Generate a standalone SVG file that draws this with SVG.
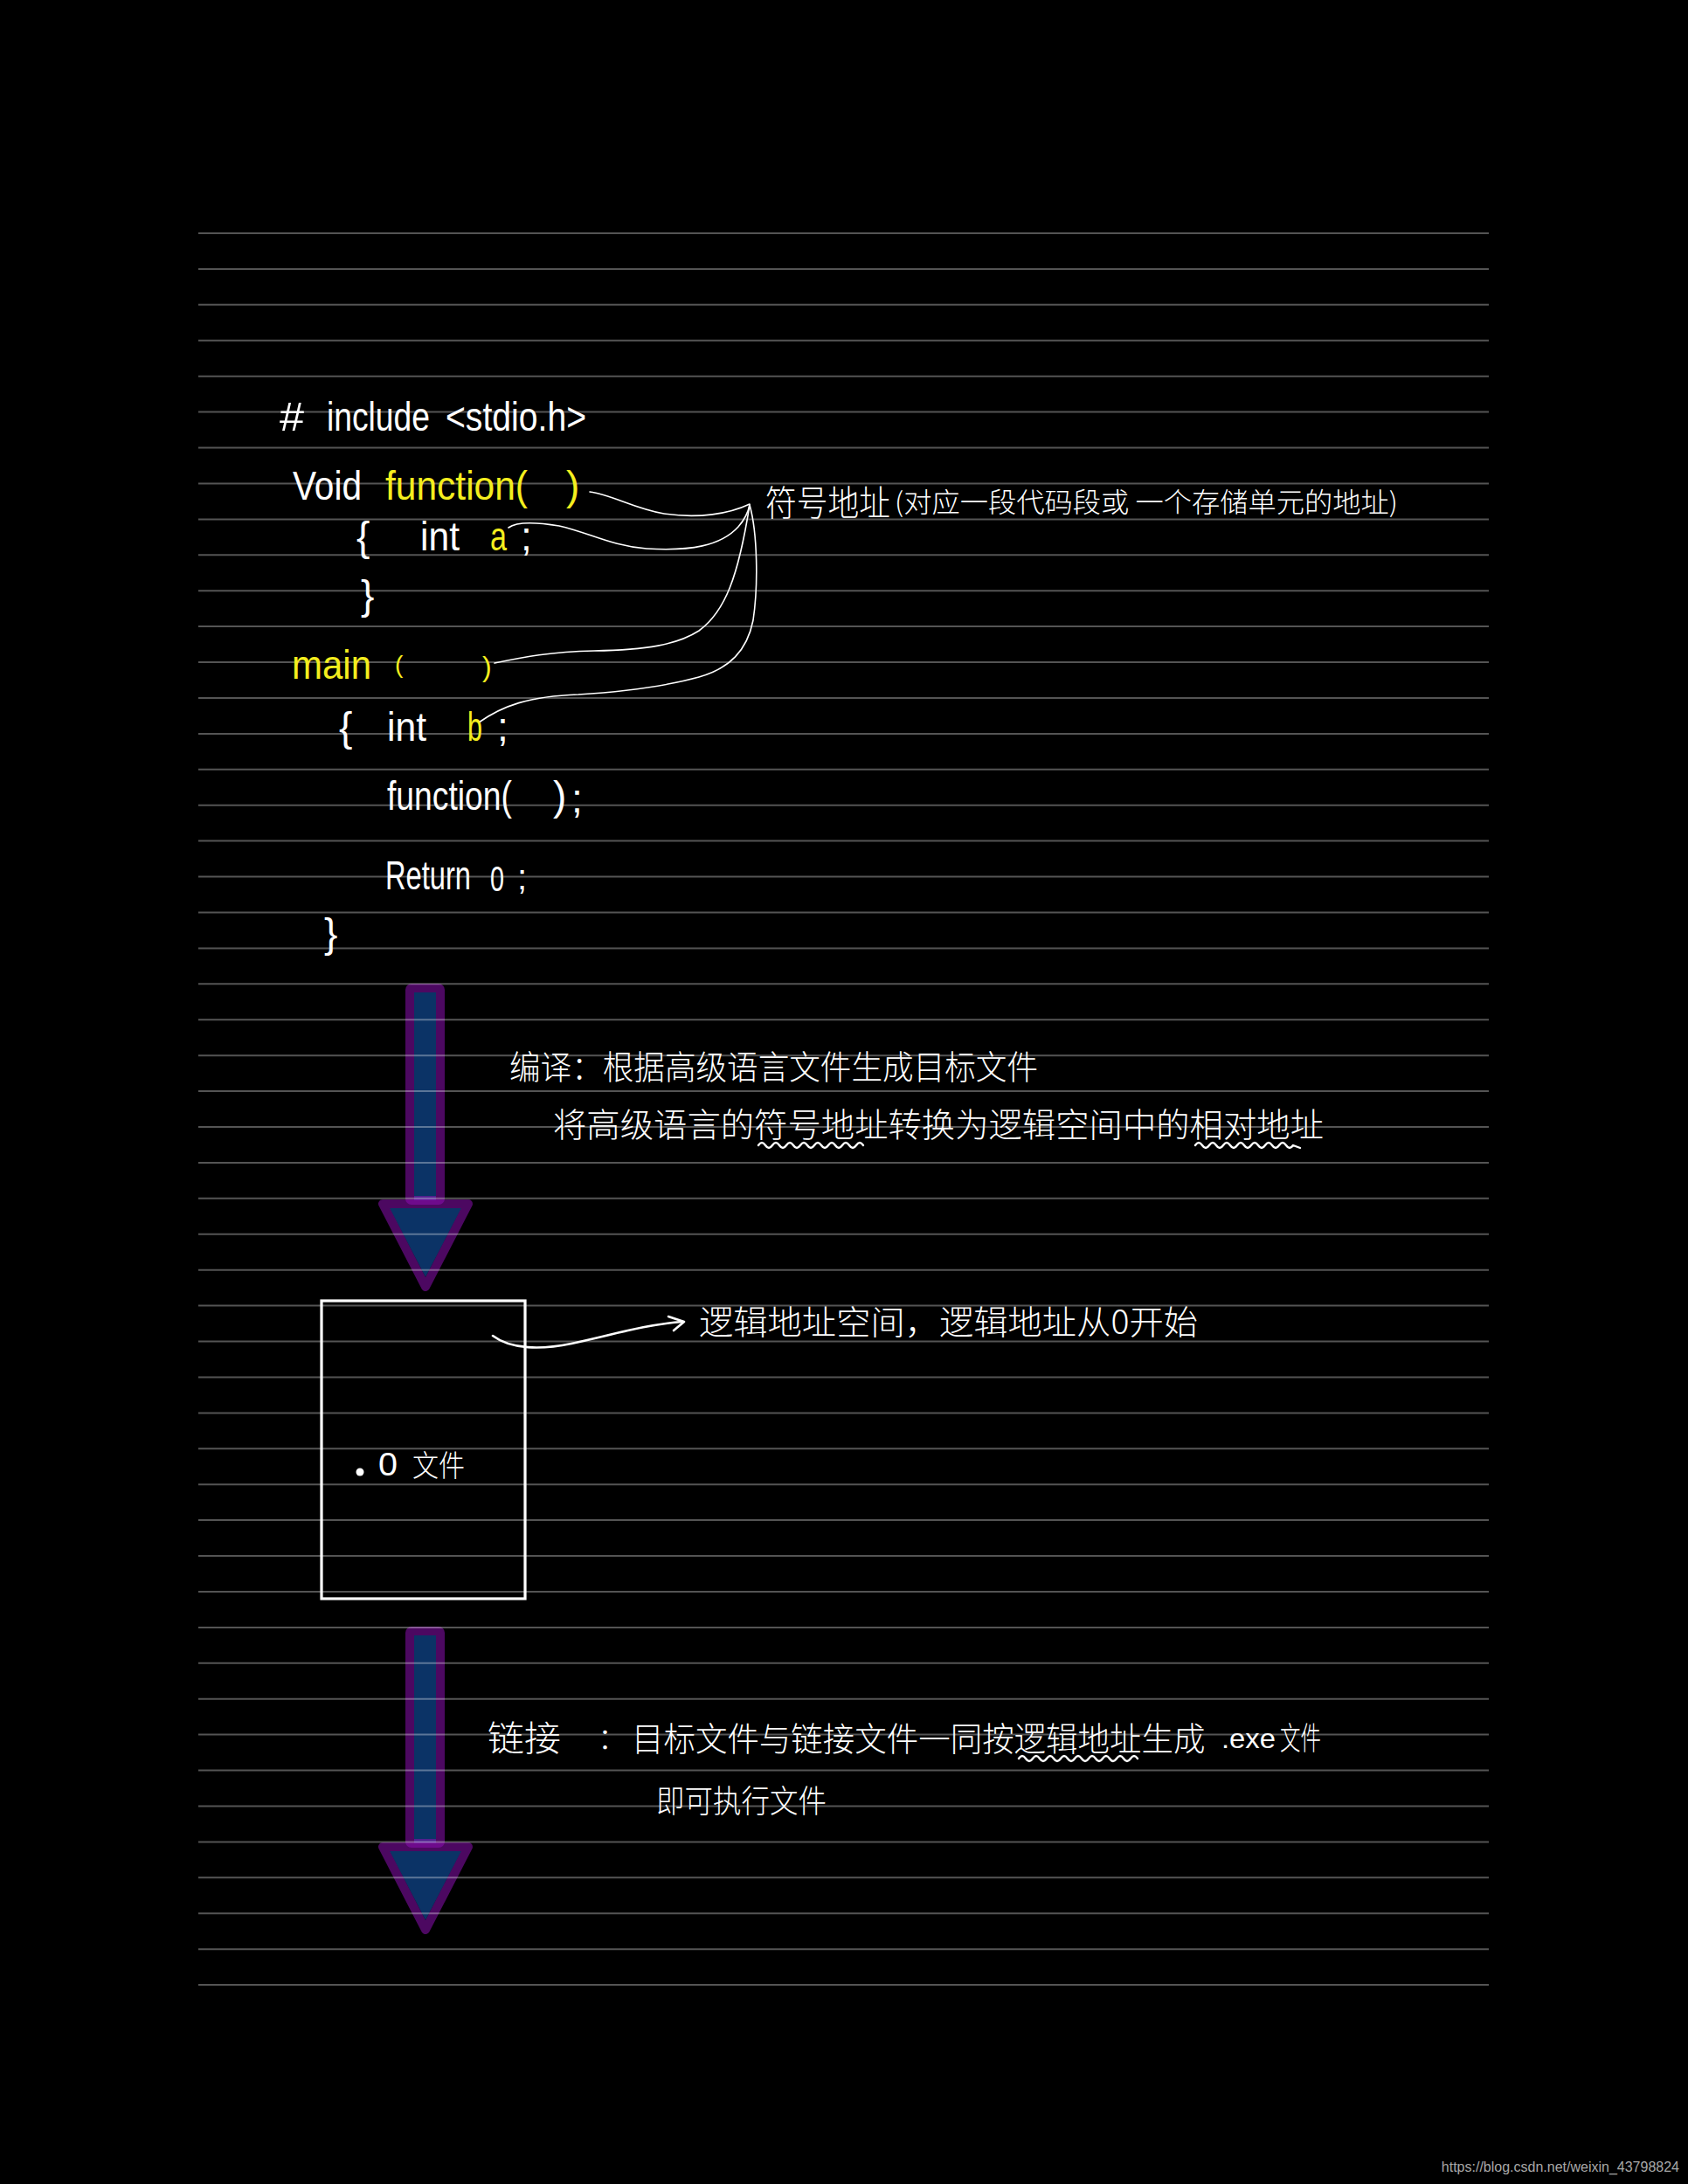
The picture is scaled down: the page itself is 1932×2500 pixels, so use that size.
<svg xmlns="http://www.w3.org/2000/svg" width="1932" height="2500" viewBox="0 0 1932 2500">
<style>
.code{font-family:"Liberation Sans",Arial,sans-serif;font-size:46px;fill:#ffffff}
.y{fill:#f4ee1e}
.cn{font-family:"Noto Sans CJK SC","Noto Sans",sans-serif;font-weight:300;fill:#ffffff}
.ink{fill:none;stroke:#ffffff;stroke-linecap:round;stroke-linejoin:round}
.thin{stroke-width:1.6}
.rule{fill:none;stroke:#ffffff;stroke-opacity:0.33;stroke-width:2}
.ablue{fill:#0b3366}
.apur{fill:none;stroke:#8a0fb0;stroke-opacity:0.55;stroke-width:10;stroke-linejoin:round}
.wm{font-family:"Liberation Sans",Arial,sans-serif;font-size:16px;fill:#a8a8a8}
</style>
<defs>
<g id="bigArrow">
<rect class="ablue" x="474" y="1136" width="25" height="238"/>
<rect class="apur" x="469" y="1131" width="35" height="243" rx="2"/>
<polygon class="ablue" points="446,1383 528,1383 487,1462"/>
<polygon class="apur" points="438,1378 536,1378 487,1473"/>
</g>
</defs>
<rect x="0" y="0" width="1932" height="2500" fill="#000000"/>

<g id="connectors">
<use href="#bigArrow"/>
<use href="#bigArrow" transform="translate(0,736)"/>
<path class="ink thin" d="M675,563 C700,566 725,582 760,588 C800,594 835,588 858,577"/>
<path class="ink thin" d="M582,604 C590,598 610,597 640,602 C675,610 700,625 740,628 C790,631 825,625 845,603 C852,595 856,588 858,578"/>
<path class="ink thin" d="M566,759 C600,752 630,746 680,745 C740,744 775,738 800,722 C830,700 845,660 858,578"/>
<path class="ink thin" d="M548,827 C575,808 605,797 662,795 C710,792 760,786 800,775 C835,765 855,745 862,710 C868,670 867,610 858,578"/>
<path class="ink" stroke-width="2.6" d="M564,1529 C585,1545 620,1545 654,1538 C700,1528 740,1516 781,1513"/>
<path class="ink" stroke-width="2.6" d="M765,1507 L783,1513 L771,1523"/>
</g>

<g id="rules">
<path class="rule" d="M227,267H1704M227,307.9H1704M227,348.8H1704M227,389.8H1704M227,430.7H1704M227,471.6H1704M227,512.5H1704M227,553.4H1704M227,594.4H1704M227,635.3H1704M227,676.2H1704M227,717.1H1704M227,758H1704M227,799H1704M227,839.9H1704M227,880.8H1704M227,921.7H1704M227,962.6H1704M227,1003.6H1704M227,1044.5H1704M227,1085.4H1704M227,1126.3H1704M227,1167.2H1704M227,1208.2H1704M227,1249.1H1704M227,1290H1704M227,1330.9H1704M227,1371.8H1704M227,1412.8H1704M227,1453.7H1704M227,1494.6H1704M227,1535.5H1704M227,1576.4H1704M227,1617.4H1704M227,1658.3H1704M227,1699.2H1704M227,1740.1H1704M227,1781H1704M227,1822H1704M227,1862.9H1704M227,1903.8H1704M227,1944.7H1704M227,1985.6H1704M227,2026.6H1704M227,2067.5H1704M227,2108.4H1704M227,2149.3H1704M227,2190.2H1704M227,2231.2H1704M227,2272.1H1704"/>
</g>

<g id="code-include">
<text class="code" x="320" y="493" textLength="28" lengthAdjust="spacingAndGlyphs">#</text>
<text class="code" x="374" y="493" textLength="118" lengthAdjust="spacingAndGlyphs">include</text>
<text class="code" x="510" y="493" textLength="161" lengthAdjust="spacingAndGlyphs">&lt;stdio.h&gt;</text>
</g>
<g id="code-void-function">
<text class="code" x="335" y="572" textLength="79" lengthAdjust="spacingAndGlyphs">Void</text>
<text class="code y" x="441" y="572" textLength="163" lengthAdjust="spacingAndGlyphs">function(</text>
<text class="code y" x="648" y="572">)</text>
</g>
<g id="code-int-a">
<text class="code" x="408" y="630">{</text>
<text class="code" x="481" y="630" textLength="45" lengthAdjust="spacingAndGlyphs">int</text>
<text class="code y" x="561" y="630" textLength="19" lengthAdjust="spacingAndGlyphs">a</text>
<text class="code" x="596" y="630">;</text>
</g>
<g id="code-close1">
<text class="code" x="413" y="697">}</text>
</g>
<g id="code-main">
<text class="code y" x="334" y="777" textLength="91" lengthAdjust="spacingAndGlyphs">main</text>
<text class="code y" x="452" y="770" style="font-size:28px">(</text>
<text class="code y" x="552" y="774" style="font-size:32px">)</text>
</g>
<g id="code-int-b">
<text class="code" x="388" y="848">{</text>
<text class="code" x="443" y="848" textLength="45" lengthAdjust="spacingAndGlyphs">int</text>
<text class="code y" x="535" y="848" textLength="17" lengthAdjust="spacingAndGlyphs">b</text>
<text class="code" x="569" y="848">;</text>
</g>
<g id="code-call">
<text class="code" x="443" y="927" textLength="143" lengthAdjust="spacingAndGlyphs">function(</text>
<text class="code" x="633" y="927">)</text>
<text class="code" x="654" y="930">;</text>
</g>
<g id="code-return">
<text class="code" transform="translate(441,1018) scale(0.71,1)" x="0" y="0">Return</text>
<text class="code" x="561" y="1020" style="font-size:40px" textLength="16" lengthAdjust="spacingAndGlyphs">0</text>
<text class="code" x="592" y="1018" style="font-size:40px">;</text>
</g>
<g id="code-close2">
<text class="code" x="371" y="1084">}</text>
</g>

<g id="symbol-address-label">
<text class="cn" x="876" y="590" font-size="40" textLength="143" lengthAdjust="spacingAndGlyphs">符号地址</text>
<text class="cn" x="1024" y="586" font-size="31" textLength="576" lengthAdjust="spacingAndGlyphs">(对应一段代码段或 一个存储单元的地址)</text>
</g>

<g id="compile-note">
<text class="cn" x="583" y="1235" font-size="38" textLength="605" lengthAdjust="spacingAndGlyphs">编译：根据高级语言文件生成目标文件</text>
<text class="cn" x="633" y="1301" font-size="38" textLength="882" lengthAdjust="spacingAndGlyphs">将高级语言的符号地址转换为逻辑空间中的相对地址</text>
<path class="ink" stroke-width="2.4" d="M868,1311 q4,-6 8,0 t8,0 t8,0 t8,0 t8,0 t8,0 t8,0 t8,0 t8,0 t8,0 t8,0 t8,0 t8,0 t8,0 t8,0"/>
<path class="ink" stroke-width="2.4" d="M1368,1311 q4,-6 8,0 t8,0 t8,0 t8,0 t8,0 t8,0 t8,0 t8,0 t8,0 t8,0 t8,0 t8,0 t8,0 t8,0 l8,3"/>
</g>

<g id="o-file">
<rect x="368" y="1489" width="233" height="341" fill="none" stroke="#ffffff" stroke-width="3.2"/>
<circle cx="412" cy="1685" r="4.5" fill="#ffffff"/>
<text class="code" x="433" y="1689" style="font-size:36px" textLength="22" lengthAdjust="spacingAndGlyphs">0</text>
<text class="cn" x="472" y="1690" font-size="34" textLength="60" lengthAdjust="spacingAndGlyphs">文件</text>
</g>

<g id="logical-space-note">
<text class="cn" x="800" y="1527" font-size="38" textLength="571" lengthAdjust="spacingAndGlyphs">逻辑地址空间，逻辑地址从0开始</text>
</g>

<g id="link-note">
<text class="cn" x="558" y="2004" font-size="40" textLength="84" lengthAdjust="spacingAndGlyphs">链接</text>
<text class="cn" x="684" y="2002" font-size="34">：</text>
<text class="cn" transform="translate(723,2004) scale(0.96,1)" x="0" y="0" font-size="38">目标文件与链接文件一同按逻辑地址生成</text>
<text class="code" x="1398" y="2001" style="font-size:32px" textLength="62" lengthAdjust="spacingAndGlyphs">.exe</text>
<text class="cn" x="1465" y="2003" font-size="36" textLength="47" lengthAdjust="spacingAndGlyphs">文件</text>
<path class="ink" stroke-width="2.4" d="M1166,2013 q4,-6 8,0 t8,0 t8,0 t8,0 t8,0 t8,0 t8,0 t8,0 t8,0 t8,0 t8,0 t8,0 t8,0 t8,0 t8,0 t8,0 t8,0"/>
<text class="cn" x="751" y="2075" font-size="36" textLength="195" lengthAdjust="spacingAndGlyphs">即可执行文件</text>
</g>

<g id="watermark">
<text class="wm" x="1922" y="2486" text-anchor="end">https://blog.csdn.net/weixin_43798824</text>
</g>
</svg>
